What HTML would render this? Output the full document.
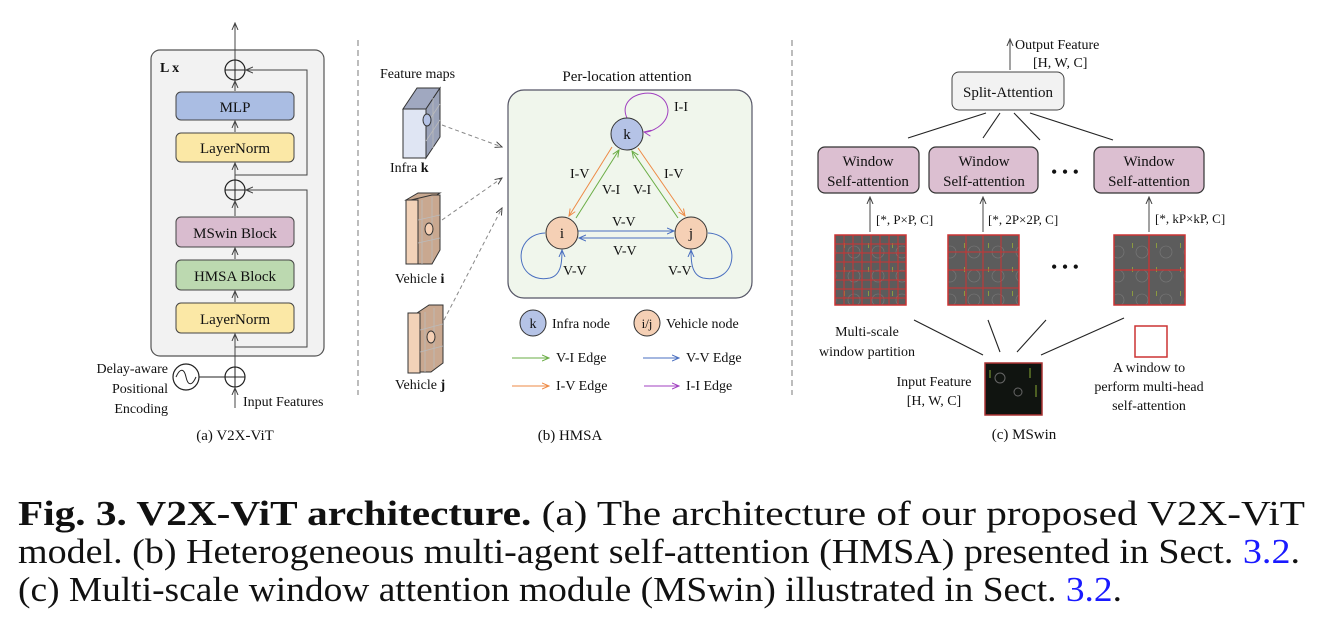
<!DOCTYPE html>
<html><head><meta charset="utf-8"><style>
html,body{margin:0;padding:0;background:#fff;}
svg{display:block;}
text{font-family:"Liberation Serif",serif;fill:#111;}
</style></head><body>
<svg width="1326" height="630" viewBox="0 0 1326 630" xmlns="http://www.w3.org/2000/svg">
<defs>
<marker id="a" markerWidth="8" markerHeight="8" refX="7" refY="4" orient="auto" markerUnits="userSpaceOnUse"><path d="M0,1 L7,4 L0,7" fill="none" stroke="#444" stroke-width="1"/></marker>
<marker id="ag" markerWidth="8" markerHeight="8" refX="7" refY="4" orient="auto" markerUnits="userSpaceOnUse"><path d="M0,1 L7,4 L0,7" fill="none" stroke="#6aad45" stroke-width="1"/></marker>
<marker id="ao" markerWidth="8" markerHeight="8" refX="7" refY="4" orient="auto" markerUnits="userSpaceOnUse"><path d="M0,1 L7,4 L0,7" fill="none" stroke="#ee8a45" stroke-width="1"/></marker>
<marker id="ab" markerWidth="8" markerHeight="8" refX="7" refY="4" orient="auto" markerUnits="userSpaceOnUse"><path d="M0,1 L7,4 L0,7" fill="none" stroke="#4a6fc0" stroke-width="1"/></marker>
<marker id="ap" markerWidth="8" markerHeight="8" refX="7" refY="4" orient="auto" markerUnits="userSpaceOnUse"><path d="M0,1 L7,4 L0,7" fill="none" stroke="#a040c0" stroke-width="1"/></marker>
<pattern id="noise" width="24" height="24" patternUnits="userSpaceOnUse"><rect width="24" height="24" fill="#5c5c5c"/><circle cx="14" cy="12" r="6" fill="none" stroke="#7a7a7a" stroke-width="0.6"/><rect x="4" y="3" width="1" height="5" fill="#8a9a40"/></pattern>
</defs>

<!-- Panel a -->
<rect x="151" y="50" width="173" height="306" rx="9" fill="#f2f2f2" stroke="#555" stroke-width="1.2"/>
<text x="160" y="72" font-size="14" font-weight="bold">L x</text>
<line x1="235" y1="60" x2="235" y2="23" stroke="#444" marker-end="url(#a)"/>
<circle cx="235" cy="70" r="10" fill="none" stroke="#222" stroke-width="1.2"/>
<line x1="225" y1="70" x2="245" y2="70" stroke="#222"/><line x1="235" y1="60" x2="235" y2="80" stroke="#222"/>
<rect x="176" y="92" width="118" height="28" rx="5" fill="#aabde3" stroke="#444"/>
<text x="235" y="112" font-size="15" text-anchor="middle">MLP</text>
<line x1="235" y1="91" x2="235" y2="81" stroke="#444" marker-end="url(#a)"/>
<rect x="176" y="133" width="118" height="29" rx="5" fill="#fbe8a6" stroke="#444"/>
<text x="235" y="153" font-size="15" text-anchor="middle">LayerNorm</text>
<line x1="235" y1="132" x2="235" y2="121" stroke="#444" marker-end="url(#a)"/>
<line x1="235" y1="180" x2="235" y2="163" stroke="#444" marker-end="url(#a)"/>
<polyline points="235,175 307,175 307,70 246,70" fill="none" stroke="#444" marker-end="url(#a)"/>
<circle cx="235" cy="190" r="10" fill="none" stroke="#222" stroke-width="1.2"/>
<line x1="225" y1="190" x2="245" y2="190" stroke="#222"/><line x1="235" y1="180" x2="235" y2="200" stroke="#222"/>
<rect x="176" y="217" width="118" height="30" rx="5" fill="#d9bccf" stroke="#444"/>
<text x="235" y="238" font-size="15" text-anchor="middle">MSwin Block</text>
<line x1="235" y1="216" x2="235" y2="201" stroke="#444" marker-end="url(#a)"/>
<rect x="176" y="260" width="118" height="30" rx="5" fill="#bcd9b0" stroke="#444"/>
<text x="235" y="281" font-size="15" text-anchor="middle">HMSA Block</text>
<line x1="235" y1="259" x2="235" y2="248" stroke="#444" marker-end="url(#a)"/>
<rect x="176" y="303" width="118" height="30" rx="5" fill="#fbe8a6" stroke="#444"/>
<text x="235" y="324" font-size="15" text-anchor="middle">LayerNorm</text>
<line x1="235" y1="302" x2="235" y2="291" stroke="#444" marker-end="url(#a)"/>
<line x1="235" y1="367" x2="235" y2="334" stroke="#444" marker-end="url(#a)"/>
<polyline points="235,347 307,347 307,190 246,190" fill="none" stroke="#444" marker-end="url(#a)"/>
<circle cx="235" cy="377" r="10" fill="none" stroke="#222" stroke-width="1.2"/>
<line x1="225" y1="377" x2="245" y2="377" stroke="#222"/><line x1="235" y1="367" x2="235" y2="387" stroke="#222"/>
<line x1="235" y1="408" x2="235" y2="388" stroke="#444" marker-end="url(#a)"/>
<circle cx="186" cy="377" r="13" fill="none" stroke="#222" stroke-width="1.2"/>
<path d="M176,377 C180,368 184,368 186,377 C188,386 192,386 196,377" fill="none" stroke="#222"/>
<line x1="199" y1="377" x2="225" y2="377" stroke="#222"/>
<text x="168" y="373" font-size="14" text-anchor="end">Delay-aware</text>
<text x="168" y="393" font-size="14" text-anchor="end">Positional</text>
<text x="168" y="413" font-size="14" text-anchor="end">Encoding</text>
<text x="243" y="406" font-size="14">Input Features</text>
<text x="235" y="440" font-size="15" text-anchor="middle">(a) V2X-ViT</text>

<line x1="358" y1="40" x2="358" y2="395" stroke="#999" stroke-dasharray="6,4" stroke-width="1.3"/>
<line x1="792" y1="40" x2="792" y2="395" stroke="#999" stroke-dasharray="6,4" stroke-width="1.3"/>

<!-- Panel b -->
<text x="380" y="78" font-size="14">Feature maps</text>
<g stroke="#333" stroke-width="1">
<polygon points="403,109 417,88 440,88 426,109" fill="#a0a8c0"/>
<polygon points="426,109 440,88 440,137 426,158" fill="#9aa2b8"/>
<rect x="403" y="109" width="23" height="49" fill="#dfe5f3"/>
<polygon points="406,200 418,193 440,193 428,200" fill="#c8a890"/>
<polygon points="411,200 432,195 440,195 440,250 432,264 411,264" fill="#c9a890"/>
<rect x="406" y="200" width="12" height="64" fill="#f2d2b8"/>
<polygon points="417,313 429,305 443,305 443,363 431,372 417,372" fill="#c9a890"/>
<rect x="408" y="313" width="12" height="60" fill="#f2d2b8"/>
</g>
<g stroke="#bbb" stroke-width="0.8">
<line x1="426" y1="125" x2="440" y2="104"/><line x1="426" y1="141" x2="440" y2="120"/><line x1="433" y1="98" x2="433" y2="148"/>
<line x1="422" y1="200" x2="422" y2="264"/><line x1="432" y1="197" x2="432" y2="262"/><line x1="418" y1="220" x2="440" y2="215"/><line x1="418" y1="243" x2="440" y2="238"/>
<line x1="425" y1="312" x2="425" y2="372"/><line x1="434" y1="308" x2="434" y2="368"/><line x1="420" y1="330" x2="443" y2="324"/><line x1="420" y1="352" x2="443" y2="346"/>
</g>
<ellipse cx="427" cy="120" rx="4" ry="6" fill="#b5c3e6" stroke="#333"/>
<ellipse cx="429" cy="229" rx="4" ry="6" fill="#f5d0b5" stroke="#333"/>
<ellipse cx="431" cy="337" rx="4" ry="6" fill="#f5d0b5" stroke="#333"/>
<text x="390" y="172" font-size="14">Infra <tspan font-weight="bold">k</tspan></text>
<text x="395" y="283" font-size="14">Vehicle <tspan font-weight="bold">i</tspan></text>
<text x="395" y="389" font-size="14">Vehicle <tspan font-weight="bold">j</tspan></text>
<g stroke="#888" stroke-dasharray="4,3" fill="none">
<line x1="442" y1="125" x2="502" y2="147" marker-end="url(#a)"/>
<line x1="442" y1="220" x2="502" y2="178" marker-end="url(#a)"/>
<line x1="444" y1="320" x2="502" y2="208" marker-end="url(#a)"/>
</g>
<text x="627" y="81" font-size="15" text-anchor="middle">Per-location attention</text>
<rect x="508" y="90" width="244" height="208" rx="16" fill="#f0f6ec" stroke="#556" stroke-width="1.2"/>
<path d="M627,118 C615,92 665,82 668,110 C668,125 650,133 644,132" fill="none" stroke="#a040c0" marker-end="url(#ap)"/>
<text x="674" y="111" font-size="14">I-I</text>
<line x1="612" y1="147" x2="569" y2="216" stroke="#ee8a45" marker-end="url(#ao)"/>
<line x1="576" y1="218" x2="619" y2="150" stroke="#6aad45" marker-end="url(#ag)"/>
<line x1="638" y1="148" x2="685" y2="216" stroke="#ee8a45" marker-end="url(#ao)"/>
<line x1="678" y1="218" x2="632" y2="151" stroke="#6aad45" marker-end="url(#ag)"/>
<line x1="578" y1="231" x2="674" y2="231" stroke="#4a6fc0" marker-end="url(#ab)"/>
<line x1="674" y1="238" x2="579" y2="238" stroke="#4a6fc0" marker-end="url(#ab)"/>
<path d="M545,233 C510,235 515,285 550,278 C562,275 562,260 562,250" fill="none" stroke="#4a6fc0" marker-end="url(#ab)"/>
<path d="M708,233 C743,235 738,285 703,278 C691,275 691,260 691,250" fill="none" stroke="#4a6fc0" marker-end="url(#ab)"/>
<circle cx="627" cy="134" r="16" fill="#b5c3e6" stroke="#333"/><text x="627" y="139" font-size="15" text-anchor="middle">k</text>
<circle cx="562" cy="233" r="16" fill="#f5d0b5" stroke="#333"/><text x="562" y="238" font-size="15" text-anchor="middle">i</text>
<circle cx="691" cy="233" r="16" fill="#f5d0b5" stroke="#333"/><text x="691" y="238" font-size="15" text-anchor="middle">j</text>
<g font-size="14">
<text x="570" y="178">I-V</text><text x="602" y="194">V-I</text>
<text x="633" y="194">V-I</text><text x="664" y="178">I-V</text>
<text x="612" y="226">V-V</text><text x="613" y="255">V-V</text>
<text x="563" y="275">V-V</text><text x="668" y="275">V-V</text>
</g>
<circle cx="533" cy="323" r="13" fill="#b5c3e6" stroke="#333"/><text x="533" y="328" font-size="14" text-anchor="middle">k</text>
<text x="552" y="328" font-size="14">Infra node</text>
<circle cx="647" cy="323" r="13" fill="#f5d0b5" stroke="#333"/><text x="647" y="328" font-size="13" text-anchor="middle">i/j</text>
<text x="666" y="328" font-size="14">Vehicle node</text>
<line x1="512" y1="358" x2="549" y2="358" stroke="#6aad45" marker-end="url(#ag)"/><text x="556" y="362" font-size="14">V-I Edge</text>
<line x1="512" y1="386" x2="549" y2="386" stroke="#ee8a45" marker-end="url(#ao)"/><text x="556" y="390" font-size="14">I-V Edge</text>
<line x1="643" y1="358" x2="679" y2="358" stroke="#4a6fc0" marker-end="url(#ab)"/><text x="686" y="362" font-size="14">V-V Edge</text>
<line x1="644" y1="386" x2="679" y2="386" stroke="#a040c0" marker-end="url(#ap)"/><text x="686" y="390" font-size="14">I-I Edge</text>
<text x="570" y="440" font-size="15" text-anchor="middle">(b) HMSA</text>

<!-- Panel c -->
<line x1="1010" y1="70" x2="1010" y2="39" stroke="#444" marker-end="url(#a)"/>
<text x="1015" y="49" font-size="14">Output Feature</text>
<text x="1033" y="67" font-size="14">[H, W, C]</text>
<rect x="952" y="72" width="112" height="38" rx="7" fill="#f2f2f2" stroke="#444"/>
<text x="1008" y="97" font-size="15" text-anchor="middle">Split-Attention</text>
<g stroke="#222" stroke-width="1.1">
<line x1="908" y1="138" x2="986" y2="113"/><line x1="983" y1="138" x2="1000" y2="113"/>
<line x1="1040" y1="140" x2="1014" y2="113"/><line x1="1113" y1="140" x2="1030" y2="113"/>
</g>
<g fill="#dcbfd1" stroke="#333" stroke-width="1.2">
<rect x="818" y="147" width="101" height="46" rx="7"/>
<rect x="929" y="147" width="109" height="46" rx="7"/>
<rect x="1094" y="147" width="110" height="46" rx="7"/>
</g>
<g font-size="15" text-anchor="middle">
<text x="868" y="166">Window</text><text x="868" y="186">Self-attention</text>
<text x="984" y="166">Window</text><text x="984" y="186">Self-attention</text>
<text x="1149" y="166">Window</text><text x="1149" y="186">Self-attention</text>
</g>
<text x="1065" y="178" font-size="18" text-anchor="middle">• • •</text>
<text x="1065" y="273" font-size="18" text-anchor="middle">• • •</text>
<line x1="870" y1="232" x2="870" y2="197" stroke="#444" marker-end="url(#a)"/>
<line x1="983" y1="232" x2="983" y2="197" stroke="#444" marker-end="url(#a)"/>
<line x1="1149" y1="232" x2="1149" y2="197" stroke="#444" marker-end="url(#a)"/>
<text x="876" y="224" font-size="13">[*, P×P, C]</text>
<text x="988" y="224" font-size="13">[*, 2P×2P, C]</text>
<text x="1155" y="223" font-size="13">[*, kP×kP, C]</text>
<rect x="835" y="235" width="71" height="70" fill="url(#noise)" stroke="#c33" stroke-width="1.5"/>
<g stroke="#c33" stroke-width="1">
<path d="M844,235V305M853,235V305M862,235V305M871,235V305M880,235V305M889,235V305M898,235V305"/>
<path d="M835,244H906M835,253H906M835,262H906M835,271H906M835,280H906M835,289H906M835,298H906"/>
</g>
<rect x="948" y="235" width="71" height="70" fill="url(#noise)" stroke="#c33" stroke-width="1.5"/>
<path d="M966,235V305M983,235V305M1001,235V305M948,252H1019M948,270H1019M948,288H1019" stroke="#c33"/>
<rect x="1114" y="235" width="71" height="70" fill="url(#noise)" stroke="#c33" stroke-width="1.5"/>
<path d="M1149,235V305M1114,270H1185" stroke="#c33" stroke-width="1.3"/>
<g stroke="#222" stroke-width="1.1">
<line x1="983" y1="355" x2="914" y2="320"/><line x1="1000" y1="352" x2="988" y2="320"/>
<line x1="1017" y1="352" x2="1046" y2="320"/><line x1="1041" y1="355" x2="1124" y2="318"/>
</g>
<rect x="985" y="363" width="57" height="52" fill="#101410" stroke="#a33" stroke-width="1.5"/>
<circle cx="1000" cy="378" r="5" fill="none" stroke="#666"/><circle cx="1018" cy="392" r="4" fill="none" stroke="#666"/>
<path d="M990,370v8M1030,368v10M1036,385v12" stroke="#8a3" stroke-width="1"/>
<rect x="1135" y="326" width="32" height="31" fill="none" stroke="#c33" stroke-width="1.5"/>
<text x="867" y="336" font-size="14" text-anchor="middle">Multi-scale</text>
<text x="867" y="356" font-size="14" text-anchor="middle">window partition</text>
<text x="934" y="386" font-size="14" text-anchor="middle">Input Feature</text>
<text x="934" y="405" font-size="14" text-anchor="middle">[H, W, C]</text>
<text x="1149" y="372" font-size="14" text-anchor="middle">A window to</text>
<text x="1149" y="391" font-size="14" text-anchor="middle">perform multi-head</text>
<text x="1149" y="410" font-size="14" text-anchor="middle">self-attention</text>
<text x="1024" y="439" font-size="15" text-anchor="middle">(c) MSwin</text>

<!-- Caption -->
<g font-size="35">
<text x="18" y="525" textLength="1287" lengthAdjust="spacingAndGlyphs"><tspan font-weight="bold">Fig. 3.  V2X-ViT  architecture.</tspan> (a)  The  architecture  of  our  proposed  V2X-ViT</text>
<text x="18" y="563" textLength="1282" lengthAdjust="spacingAndGlyphs">model. (b) Heterogeneous multi-agent self-attention (HMSA) presented in Sect. <tspan fill="#1a1aff">3.2</tspan>.</text>
<text x="18" y="601" textLength="1104" lengthAdjust="spacingAndGlyphs">(c) Multi-scale window attention module (MSwin) illustrated in Sect. <tspan fill="#1a1aff">3.2</tspan>.</text>
</g>
</svg>
</body></html>
